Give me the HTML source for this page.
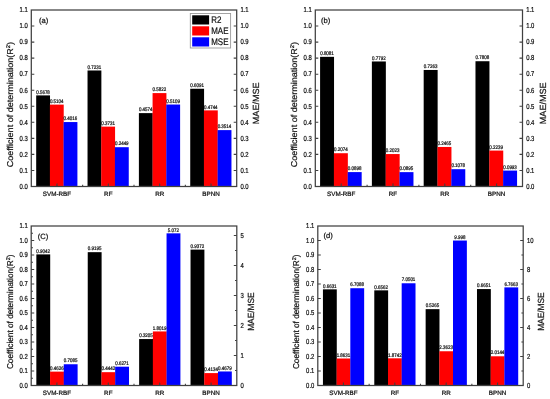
<!DOCTYPE html>
<html><head><meta charset="utf-8"><title>Figure</title>
<style>
html,body{margin:0;padding:0;background:#fff;}
body{width:550px;height:399px;overflow:hidden;}
svg{display:block;font-family:'Liberation Sans', Arial, sans-serif;text-rendering:geometricPrecision;}
text{fill:#111111;stroke:#111111;stroke-width:0.22;}
</style></head><body>
<svg width="550" height="399" viewBox="0 0 550 399">
<defs><filter id="soft" x="0" y="0" width="550" height="399" filterUnits="userSpaceOnUse"><feGaussianBlur stdDeviation="0.45"/></filter></defs>
<rect width="550" height="399" fill="#ffffff"/>
<g filter="url(#soft)">
<rect width="550" height="399" fill="#ffffff"/>
<g>
<rect x="36.18" y="95.39" width="13.84" height="91.11" fill="#000000"/>
<rect x="49.88" y="104.6" width="13.84" height="81.9" fill="#ff0000"/>
<rect x="63.57" y="122.06" width="13.84" height="64.44" fill="#0000ff"/>
<rect x="87.53" y="70.48" width="13.84" height="116.02" fill="#000000"/>
<rect x="101.23" y="126.63" width="13.84" height="59.87" fill="#ff0000"/>
<rect x="114.92" y="147.2" width="13.84" height="39.3" fill="#0000ff"/>
<rect x="138.89" y="113.11" width="13.84" height="73.39" fill="#000000"/>
<rect x="152.58" y="93.08" width="13.84" height="93.42" fill="#ff0000"/>
<rect x="166.27" y="104.52" width="13.84" height="81.98" fill="#0000ff"/>
<rect x="190.23" y="88.77" width="13.84" height="97.73" fill="#000000"/>
<rect x="203.93" y="110.38" width="13.84" height="76.12" fill="#ff0000"/>
<rect x="217.62" y="130.12" width="13.84" height="56.38" fill="#0000ff"/>
<text transform="translate(43.03 93.59) scale(0.86 1)" font-size="5.2" text-anchor="middle">0.5678</text>
<text transform="translate(56.72 102.8) scale(0.86 1)" font-size="5.2" text-anchor="middle">0.5104</text>
<text transform="translate(70.42 120.26) scale(0.86 1)" font-size="5.2" text-anchor="middle">0.4016</text>
<text transform="translate(94.38 68.68) scale(0.86 1)" font-size="5.2" text-anchor="middle">0.7231</text>
<text transform="translate(108.07 124.83) scale(0.86 1)" font-size="5.2" text-anchor="middle">0.3731</text>
<text transform="translate(121.77 145.4) scale(0.86 1)" font-size="5.2" text-anchor="middle">0.2449</text>
<text transform="translate(145.73 111.31) scale(0.86 1)" font-size="5.2" text-anchor="middle">0.4574</text>
<text transform="translate(159.43 91.28) scale(0.86 1)" font-size="5.2" text-anchor="middle">0.5822</text>
<text transform="translate(173.12 102.72) scale(0.86 1)" font-size="5.2" text-anchor="middle">0.5109</text>
<text transform="translate(197.08 86.97) scale(0.86 1)" font-size="5.2" text-anchor="middle">0.6091</text>
<text transform="translate(210.77 108.58) scale(0.86 1)" font-size="5.2" text-anchor="middle">0.4744</text>
<text transform="translate(224.47 128.32) scale(0.86 1)" font-size="5.2" text-anchor="middle">0.3514</text>
<rect x="31.3" y="10" width="205.4" height="176.5" fill="none" stroke="#404040" stroke-width="1.25"/>
<path d="M31.3 170.45h3M31.3 154.41h3M31.3 138.36h3M31.3 122.32h3M31.3 106.27h3M31.3 90.23h3M31.3 74.18h3M31.3 58.14h3M31.3 42.09h3M31.3 26.05h3M236.7 170.45h-3M236.7 154.41h-3M236.7 138.36h-3M236.7 122.32h-3M236.7 106.27h-3M236.7 90.23h-3M236.7 74.18h-3M236.7 58.14h-3M236.7 42.09h-3M236.7 26.05h-3M56.97 186.5v-3M82.65 186.5v-1.8M108.32 186.5v-3M134 186.5v-1.8M159.68 186.5v-3M185.35 186.5v-1.8M211.02 186.5v-3" stroke="#404040" stroke-width="1.1" fill="none"/>
<text transform="translate(27.8 188.8) scale(0.82 1)" font-size="7.2" text-anchor="end">0.0</text>
<text transform="translate(27.8 172.75) scale(0.82 1)" font-size="7.2" text-anchor="end">0.1</text>
<text transform="translate(27.8 156.71) scale(0.82 1)" font-size="7.2" text-anchor="end">0.2</text>
<text transform="translate(27.8 140.66) scale(0.82 1)" font-size="7.2" text-anchor="end">0.3</text>
<text transform="translate(27.8 124.62) scale(0.82 1)" font-size="7.2" text-anchor="end">0.4</text>
<text transform="translate(27.8 108.57) scale(0.82 1)" font-size="7.2" text-anchor="end">0.5</text>
<text transform="translate(27.8 92.53) scale(0.82 1)" font-size="7.2" text-anchor="end">0.6</text>
<text transform="translate(27.8 76.48) scale(0.82 1)" font-size="7.2" text-anchor="end">0.7</text>
<text transform="translate(27.8 60.44) scale(0.82 1)" font-size="7.2" text-anchor="end">0.8</text>
<text transform="translate(27.8 44.39) scale(0.82 1)" font-size="7.2" text-anchor="end">0.9</text>
<text transform="translate(27.8 28.35) scale(0.82 1)" font-size="7.2" text-anchor="end">1.0</text>
<text transform="translate(27.8 12.3) scale(0.82 1)" font-size="7.2" text-anchor="end">1.1</text>
<text transform="translate(240.4 188.8) scale(0.82 1)" font-size="7.2">0.0</text>
<text transform="translate(240.4 172.75) scale(0.82 1)" font-size="7.2">0.1</text>
<text transform="translate(240.4 156.71) scale(0.82 1)" font-size="7.2">0.2</text>
<text transform="translate(240.4 140.66) scale(0.82 1)" font-size="7.2">0.3</text>
<text transform="translate(240.4 124.62) scale(0.82 1)" font-size="7.2">0.4</text>
<text transform="translate(240.4 108.57) scale(0.82 1)" font-size="7.2">0.5</text>
<text transform="translate(240.4 92.53) scale(0.82 1)" font-size="7.2">0.6</text>
<text transform="translate(240.4 76.48) scale(0.82 1)" font-size="7.2">0.7</text>
<text transform="translate(240.4 60.44) scale(0.82 1)" font-size="7.2">0.8</text>
<text transform="translate(240.4 44.39) scale(0.82 1)" font-size="7.2">0.9</text>
<text transform="translate(240.4 28.35) scale(0.82 1)" font-size="7.2">1.0</text>
<text transform="translate(240.4 12.3) scale(0.82 1)" font-size="7.2">1.1</text>
<text transform="translate(56.97 195.7)" font-size="6.3" text-anchor="middle">SVM-RBF</text>
<text transform="translate(108.32 195.7)" font-size="6.3" text-anchor="middle">RF</text>
<text transform="translate(159.68 195.7)" font-size="6.3" text-anchor="middle">RR</text>
<text transform="translate(211.02 195.7)" font-size="6.3" text-anchor="middle">BPNN</text>
<text transform="translate(39 23.3)" font-size="7.6">(a)</text>
<text transform="translate(13 104.6) rotate(-90) scale(1.06 1)" font-size="8.5" text-anchor="middle">Coefficient of determination(R<tspan font-size="5.6" dy="-2.9">2</tspan><tspan dy="2.9">)</tspan></text>
<text transform="translate(259.4 103.3) rotate(-90) scale(1.02 1)" font-size="8.9" text-anchor="middle">MAE/MSE</text>
<rect x="190.3" y="13.5" width="40.3" height="34.5" fill="#fff" stroke="#9a9a9a" stroke-width="0.9"/>
<rect x="192.2" y="15.3" width="16.9" height="9.2" fill="#000000"/>
<text transform="translate(211.2 22.85) scale(0.83 1)" font-size="9.6">R2</text>
<rect x="192.2" y="26.3" width="16.9" height="9.2" fill="#ff0000"/>
<text transform="translate(211.2 33.85) scale(0.83 1)" font-size="9.6">MAE</text>
<rect x="192.2" y="37.3" width="16.9" height="9.2" fill="#0000ff"/>
<text transform="translate(211.2 44.85) scale(0.83 1)" font-size="9.6">MSE</text>
</g>
<g>
<rect x="320.08" y="56.84" width="13.96" height="129.66" fill="#000000"/>
<rect x="333.89" y="153.22" width="13.96" height="33.28" fill="#ff0000"/>
<rect x="347.71" y="172.09" width="13.96" height="14.41" fill="#0000ff"/>
<rect x="371.88" y="61.47" width="13.96" height="125.03" fill="#000000"/>
<rect x="385.69" y="154.04" width="13.96" height="32.46" fill="#ff0000"/>
<rect x="399.51" y="172.14" width="13.96" height="14.36" fill="#0000ff"/>
<rect x="423.68" y="69.96" width="13.96" height="116.54" fill="#000000"/>
<rect x="437.49" y="146.95" width="13.96" height="39.55" fill="#ff0000"/>
<rect x="451.31" y="169.2" width="13.96" height="17.3" fill="#0000ff"/>
<rect x="475.48" y="61.22" width="13.96" height="125.28" fill="#000000"/>
<rect x="489.29" y="150.57" width="13.96" height="35.93" fill="#ff0000"/>
<rect x="503.11" y="170.57" width="13.96" height="15.93" fill="#0000ff"/>
<text transform="translate(326.99 55.04) scale(0.86 1)" font-size="5.2" text-anchor="middle">0.8081</text>
<text transform="translate(340.8 151.42) scale(0.86 1)" font-size="5.2" text-anchor="middle">0.2074</text>
<text transform="translate(354.61 170.29) scale(0.86 1)" font-size="5.2" text-anchor="middle">0.0898</text>
<text transform="translate(378.79 59.67) scale(0.86 1)" font-size="5.2" text-anchor="middle">0.7792</text>
<text transform="translate(392.6 152.24) scale(0.86 1)" font-size="5.2" text-anchor="middle">0.2023</text>
<text transform="translate(406.41 170.34) scale(0.86 1)" font-size="5.2" text-anchor="middle">0.0895</text>
<text transform="translate(430.59 68.16) scale(0.86 1)" font-size="5.2" text-anchor="middle">0.7263</text>
<text transform="translate(444.4 145.15) scale(0.86 1)" font-size="5.2" text-anchor="middle">0.2465</text>
<text transform="translate(458.21 167.4) scale(0.86 1)" font-size="5.2" text-anchor="middle">0.1078</text>
<text transform="translate(482.39 59.42) scale(0.86 1)" font-size="5.2" text-anchor="middle">0.7808</text>
<text transform="translate(496.2 148.77) scale(0.86 1)" font-size="5.2" text-anchor="middle">0.2239</text>
<text transform="translate(510.01 168.77) scale(0.86 1)" font-size="5.2" text-anchor="middle">0.0993</text>
<rect x="315.3" y="10" width="207.2" height="176.5" fill="none" stroke="#404040" stroke-width="1.25"/>
<path d="M315.3 170.45h3M315.3 154.41h3M315.3 138.36h3M315.3 122.32h3M315.3 106.27h3M315.3 90.23h3M315.3 74.18h3M315.3 58.14h3M315.3 42.09h3M315.3 26.05h3M522.5 170.45h-3M522.5 154.41h-3M522.5 138.36h-3M522.5 122.32h-3M522.5 106.27h-3M522.5 90.23h-3M522.5 74.18h-3M522.5 58.14h-3M522.5 42.09h-3M522.5 26.05h-3M341.2 186.5v-3M367.1 186.5v-1.8M393 186.5v-3M418.9 186.5v-1.8M444.8 186.5v-3M470.7 186.5v-1.8M496.6 186.5v-3" stroke="#404040" stroke-width="1.1" fill="none"/>
<text transform="translate(311.8 188.8) scale(0.82 1)" font-size="7.2" text-anchor="end">0.0</text>
<text transform="translate(311.8 172.75) scale(0.82 1)" font-size="7.2" text-anchor="end">0.1</text>
<text transform="translate(311.8 156.71) scale(0.82 1)" font-size="7.2" text-anchor="end">0.2</text>
<text transform="translate(311.8 140.66) scale(0.82 1)" font-size="7.2" text-anchor="end">0.3</text>
<text transform="translate(311.8 124.62) scale(0.82 1)" font-size="7.2" text-anchor="end">0.4</text>
<text transform="translate(311.8 108.57) scale(0.82 1)" font-size="7.2" text-anchor="end">0.5</text>
<text transform="translate(311.8 92.53) scale(0.82 1)" font-size="7.2" text-anchor="end">0.6</text>
<text transform="translate(311.8 76.48) scale(0.82 1)" font-size="7.2" text-anchor="end">0.7</text>
<text transform="translate(311.8 60.44) scale(0.82 1)" font-size="7.2" text-anchor="end">0.8</text>
<text transform="translate(311.8 44.39) scale(0.82 1)" font-size="7.2" text-anchor="end">0.9</text>
<text transform="translate(311.8 28.35) scale(0.82 1)" font-size="7.2" text-anchor="end">1.0</text>
<text transform="translate(311.8 12.3) scale(0.82 1)" font-size="7.2" text-anchor="end">1.1</text>
<text transform="translate(526.2 188.8) scale(0.82 1)" font-size="7.2">0.0</text>
<text transform="translate(526.2 172.75) scale(0.82 1)" font-size="7.2">0.1</text>
<text transform="translate(526.2 156.71) scale(0.82 1)" font-size="7.2">0.2</text>
<text transform="translate(526.2 140.66) scale(0.82 1)" font-size="7.2">0.3</text>
<text transform="translate(526.2 124.62) scale(0.82 1)" font-size="7.2">0.4</text>
<text transform="translate(526.2 108.57) scale(0.82 1)" font-size="7.2">0.5</text>
<text transform="translate(526.2 92.53) scale(0.82 1)" font-size="7.2">0.6</text>
<text transform="translate(526.2 76.48) scale(0.82 1)" font-size="7.2">0.7</text>
<text transform="translate(526.2 60.44) scale(0.82 1)" font-size="7.2">0.8</text>
<text transform="translate(526.2 44.39) scale(0.82 1)" font-size="7.2">0.9</text>
<text transform="translate(526.2 28.35) scale(0.82 1)" font-size="7.2">1.0</text>
<text transform="translate(526.2 12.3) scale(0.82 1)" font-size="7.2">1.1</text>
<text transform="translate(341.2 195.7)" font-size="6.3" text-anchor="middle">SVM-RBF</text>
<text transform="translate(393 195.7)" font-size="6.3" text-anchor="middle">RF</text>
<text transform="translate(444.8 195.7)" font-size="6.3" text-anchor="middle">RR</text>
<text transform="translate(496.6 195.7)" font-size="6.3" text-anchor="middle">BPNN</text>
<text transform="translate(320.9 22.8)" font-size="7.6">(b)</text>
<text transform="translate(296.5 104.6) rotate(-90) scale(1.06 1)" font-size="8.5" text-anchor="middle">Coefficient of determination(R<tspan font-size="5.6" dy="-2.9">2</tspan><tspan dy="2.9">)</tspan></text>
<text transform="translate(545.9 103.3) rotate(-90) scale(1.02 1)" font-size="8.9" text-anchor="middle">MAE/MSE</text>
</g>
<g>
<rect x="36.34" y="254.39" width="13.86" height="131.11" fill="#000000"/>
<rect x="50.05" y="371.62" width="13.86" height="13.88" fill="#ff0000"/>
<rect x="63.75" y="364.25" width="13.86" height="21.25" fill="#0000ff"/>
<rect x="87.74" y="252.17" width="13.86" height="133.33" fill="#000000"/>
<rect x="101.45" y="372.17" width="13.86" height="13.33" fill="#ff0000"/>
<rect x="115.15" y="366.69" width="13.86" height="18.81" fill="#0000ff"/>
<rect x="139.14" y="339.03" width="13.86" height="46.47" fill="#000000"/>
<rect x="152.85" y="331.44" width="13.86" height="54.06" fill="#ff0000"/>
<rect x="166.55" y="233.34" width="13.86" height="152.16" fill="#0000ff"/>
<rect x="190.54" y="249.61" width="13.86" height="135.89" fill="#000000"/>
<rect x="204.25" y="373.1" width="13.86" height="12.4" fill="#ff0000"/>
<rect x="217.95" y="371.46" width="13.86" height="14.04" fill="#0000ff"/>
<text transform="translate(43.19 252.59) scale(0.86 1)" font-size="5.2" text-anchor="middle">0.9042</text>
<text transform="translate(56.9 369.82) scale(0.86 1)" font-size="5.2" text-anchor="middle">0.4626</text>
<text transform="translate(70.61 362.44) scale(0.86 1)" font-size="5.2" text-anchor="middle">0.7085</text>
<text transform="translate(94.59 250.37) scale(0.86 1)" font-size="5.2" text-anchor="middle">0.9195</text>
<text transform="translate(108.3 370.37) scale(0.86 1)" font-size="5.2" text-anchor="middle">0.4442</text>
<text transform="translate(122.01 364.89) scale(0.86 1)" font-size="5.2" text-anchor="middle">0.6271</text>
<text transform="translate(145.99 337.23) scale(0.86 1)" font-size="5.2" text-anchor="middle">0.3205</text>
<text transform="translate(159.7 329.64) scale(0.86 1)" font-size="5.2" text-anchor="middle">1.8019</text>
<text transform="translate(173.41 231.54) scale(0.86 1)" font-size="5.2" text-anchor="middle">5.072</text>
<text transform="translate(197.39 247.81) scale(0.86 1)" font-size="5.2" text-anchor="middle">0.9372</text>
<text transform="translate(211.1 371.3) scale(0.86 1)" font-size="5.2" text-anchor="middle">0.4134</text>
<text transform="translate(224.81 369.66) scale(0.86 1)" font-size="5.2" text-anchor="middle">0.4679</text>
<rect x="31.2" y="226" width="205.6" height="159.5" fill="none" stroke="#404040" stroke-width="1.25"/>
<path d="M31.2 371h3M31.2 356.5h3M31.2 342h3M31.2 327.5h3M31.2 313h3M31.2 298.5h3M31.2 284h3M31.2 269.5h3M31.2 255h3M31.2 240.5h3M31.2 378.25h1.8M31.2 363.75h1.8M31.2 349.25h1.8M31.2 334.75h1.8M31.2 320.25h1.8M31.2 305.75h1.8M31.2 291.25h1.8M31.2 276.75h1.8M31.2 262.25h1.8M31.2 247.75h1.8M31.2 233.25h1.8M236.8 355.5h-3M236.8 325.5h-3M236.8 295.5h-3M236.8 265.5h-3M236.8 235.5h-3M236.8 370.5h-1.8M236.8 340.5h-1.8M236.8 310.5h-1.8M236.8 280.5h-1.8M236.8 250.5h-1.8M56.9 385.5v-3M82.6 385.5v-1.8M108.3 385.5v-3M134 385.5v-1.8M159.7 385.5v-3M185.4 385.5v-1.8M211.1 385.5v-3" stroke="#404040" stroke-width="1.1" fill="none"/>
<text transform="translate(27.7 387.8) scale(0.82 1)" font-size="7.2" text-anchor="end">0.0</text>
<text transform="translate(27.7 373.3) scale(0.82 1)" font-size="7.2" text-anchor="end">0.1</text>
<text transform="translate(27.7 358.8) scale(0.82 1)" font-size="7.2" text-anchor="end">0.2</text>
<text transform="translate(27.7 344.3) scale(0.82 1)" font-size="7.2" text-anchor="end">0.3</text>
<text transform="translate(27.7 329.8) scale(0.82 1)" font-size="7.2" text-anchor="end">0.4</text>
<text transform="translate(27.7 315.3) scale(0.82 1)" font-size="7.2" text-anchor="end">0.5</text>
<text transform="translate(27.7 300.8) scale(0.82 1)" font-size="7.2" text-anchor="end">0.6</text>
<text transform="translate(27.7 286.3) scale(0.82 1)" font-size="7.2" text-anchor="end">0.7</text>
<text transform="translate(27.7 271.8) scale(0.82 1)" font-size="7.2" text-anchor="end">0.8</text>
<text transform="translate(27.7 257.3) scale(0.82 1)" font-size="7.2" text-anchor="end">0.9</text>
<text transform="translate(27.7 242.8) scale(0.82 1)" font-size="7.2" text-anchor="end">1.0</text>
<text transform="translate(27.7 228.3) scale(0.82 1)" font-size="7.2" text-anchor="end">1.1</text>
<text transform="translate(240.5 387.8) scale(0.82 1)" font-size="7.2">0</text>
<text transform="translate(240.5 357.8) scale(0.82 1)" font-size="7.2">1</text>
<text transform="translate(240.5 327.8) scale(0.82 1)" font-size="7.2">2</text>
<text transform="translate(240.5 297.8) scale(0.82 1)" font-size="7.2">3</text>
<text transform="translate(240.5 267.8) scale(0.82 1)" font-size="7.2">4</text>
<text transform="translate(240.5 237.8) scale(0.82 1)" font-size="7.2">5</text>
<text transform="translate(56.9 394.7)" font-size="6.3" text-anchor="middle">SVM-RBF</text>
<text transform="translate(108.3 394.7)" font-size="6.3" text-anchor="middle">RF</text>
<text transform="translate(159.7 394.7)" font-size="6.3" text-anchor="middle">RR</text>
<text transform="translate(211.1 394.7)" font-size="6.3" text-anchor="middle">BPNN</text>
<text transform="translate(37.7 238.8)" font-size="7.6">(C)</text>
<text transform="translate(12.9 311.75) rotate(-90) scale(0.97 1)" font-size="8.5" text-anchor="middle">Coefficient of determination(R<tspan font-size="5.6" dy="-2.9">2</tspan><tspan dy="2.9">)</tspan></text>
<text transform="translate(254 311.6) rotate(-90) scale(0.94 1)" font-size="8.9" text-anchor="middle">MAE/MSE</text>
</g>
<g>
<rect x="322.94" y="289.35" width="13.84" height="96.15" fill="#000000"/>
<rect x="336.63" y="358.49" width="13.84" height="27.01" fill="#ff0000"/>
<rect x="350.32" y="288.22" width="13.84" height="97.28" fill="#0000ff"/>
<rect x="374.29" y="290.35" width="13.84" height="95.15" fill="#000000"/>
<rect x="387.98" y="358.32" width="13.84" height="27.18" fill="#ff0000"/>
<rect x="401.67" y="283.27" width="13.84" height="102.23" fill="#0000ff"/>
<rect x="425.64" y="309.16" width="13.84" height="76.34" fill="#000000"/>
<rect x="439.33" y="351.25" width="13.84" height="34.25" fill="#ff0000"/>
<rect x="453.02" y="240.53" width="13.84" height="144.97" fill="#0000ff"/>
<rect x="476.99" y="289.06" width="13.84" height="96.44" fill="#000000"/>
<rect x="490.68" y="356.29" width="13.84" height="29.21" fill="#ff0000"/>
<rect x="504.37" y="287.39" width="13.84" height="98.11" fill="#0000ff"/>
<text transform="translate(329.78 287.55) scale(0.86 1)" font-size="5.2" text-anchor="middle">0.6631</text>
<text transform="translate(343.48 356.69) scale(0.86 1)" font-size="5.2" text-anchor="middle">1.8631</text>
<text transform="translate(357.17 286.42) scale(0.86 1)" font-size="5.2" text-anchor="middle">6.7088</text>
<text transform="translate(381.13 288.55) scale(0.86 1)" font-size="5.2" text-anchor="middle">0.6562</text>
<text transform="translate(394.83 356.52) scale(0.86 1)" font-size="5.2" text-anchor="middle">1.8742</text>
<text transform="translate(408.52 281.47) scale(0.86 1)" font-size="5.2" text-anchor="middle">7.0501</text>
<text transform="translate(432.48 307.36) scale(0.86 1)" font-size="5.2" text-anchor="middle">0.5265</text>
<text transform="translate(446.18 349.45) scale(0.86 1)" font-size="5.2" text-anchor="middle">2.3623</text>
<text transform="translate(459.87 238.73) scale(0.86 1)" font-size="5.2" text-anchor="middle">9.998</text>
<text transform="translate(483.83 287.26) scale(0.86 1)" font-size="5.2" text-anchor="middle">0.6651</text>
<text transform="translate(497.53 354.49) scale(0.86 1)" font-size="5.2" text-anchor="middle">2.0144</text>
<text transform="translate(511.22 285.59) scale(0.86 1)" font-size="5.2" text-anchor="middle">6.7663</text>
<rect x="317.8" y="226" width="205.4" height="159.5" fill="none" stroke="#404040" stroke-width="1.25"/>
<path d="M317.8 371h3M317.8 356.5h3M317.8 342h3M317.8 327.5h3M317.8 313h3M317.8 298.5h3M317.8 284h3M317.8 269.5h3M317.8 255h3M317.8 240.5h3M523.2 356.5h-3M523.2 327.5h-3M523.2 298.5h-3M523.2 269.5h-3M523.2 240.5h-3M523.2 371h-1.8M523.2 342h-1.8M523.2 313h-1.8M523.2 284h-1.8M523.2 255h-1.8M343.48 385.5v-3M369.15 385.5v-1.8M394.83 385.5v-3M420.5 385.5v-1.8M446.18 385.5v-3M471.85 385.5v-1.8M497.53 385.5v-3" stroke="#404040" stroke-width="1.1" fill="none"/>
<text transform="translate(314.3 387.8) scale(0.82 1)" font-size="7.2" text-anchor="end">0.0</text>
<text transform="translate(314.3 373.3) scale(0.82 1)" font-size="7.2" text-anchor="end">0.1</text>
<text transform="translate(314.3 358.8) scale(0.82 1)" font-size="7.2" text-anchor="end">0.2</text>
<text transform="translate(314.3 344.3) scale(0.82 1)" font-size="7.2" text-anchor="end">0.3</text>
<text transform="translate(314.3 329.8) scale(0.82 1)" font-size="7.2" text-anchor="end">0.4</text>
<text transform="translate(314.3 315.3) scale(0.82 1)" font-size="7.2" text-anchor="end">0.5</text>
<text transform="translate(314.3 300.8) scale(0.82 1)" font-size="7.2" text-anchor="end">0.6</text>
<text transform="translate(314.3 286.3) scale(0.82 1)" font-size="7.2" text-anchor="end">0.7</text>
<text transform="translate(314.3 271.8) scale(0.82 1)" font-size="7.2" text-anchor="end">0.8</text>
<text transform="translate(314.3 257.3) scale(0.82 1)" font-size="7.2" text-anchor="end">0.9</text>
<text transform="translate(314.3 242.8) scale(0.82 1)" font-size="7.2" text-anchor="end">1.0</text>
<text transform="translate(314.3 228.3) scale(0.82 1)" font-size="7.2" text-anchor="end">1.1</text>
<text transform="translate(526.9 387.8) scale(0.82 1)" font-size="7.2">0</text>
<text transform="translate(526.9 358.8) scale(0.82 1)" font-size="7.2">2</text>
<text transform="translate(526.9 329.8) scale(0.82 1)" font-size="7.2">4</text>
<text transform="translate(526.9 300.8) scale(0.82 1)" font-size="7.2">6</text>
<text transform="translate(526.9 271.8) scale(0.82 1)" font-size="7.2">8</text>
<text transform="translate(526.9 242.8) scale(0.82 1)" font-size="7.2">10</text>
<text transform="translate(343.48 394.7)" font-size="6.3" text-anchor="middle">SVM-RBF</text>
<text transform="translate(394.83 394.7)" font-size="6.3" text-anchor="middle">RF</text>
<text transform="translate(446.18 394.7)" font-size="6.3" text-anchor="middle">RR</text>
<text transform="translate(497.53 394.7)" font-size="6.3" text-anchor="middle">BPNN</text>
<text transform="translate(323.5 237.8)" font-size="7.6">(d)</text>
<text transform="translate(299 311.75) rotate(-90) scale(0.97 1)" font-size="8.5" text-anchor="middle">Coefficient of determination(R<tspan font-size="5.6" dy="-2.9">2</tspan><tspan dy="2.9">)</tspan></text>
<text transform="translate(544.2 311.6) rotate(-90) scale(0.94 1)" font-size="8.9" text-anchor="middle">MAE/MSE</text>
</g>
</g>
</svg>
</body></html>
